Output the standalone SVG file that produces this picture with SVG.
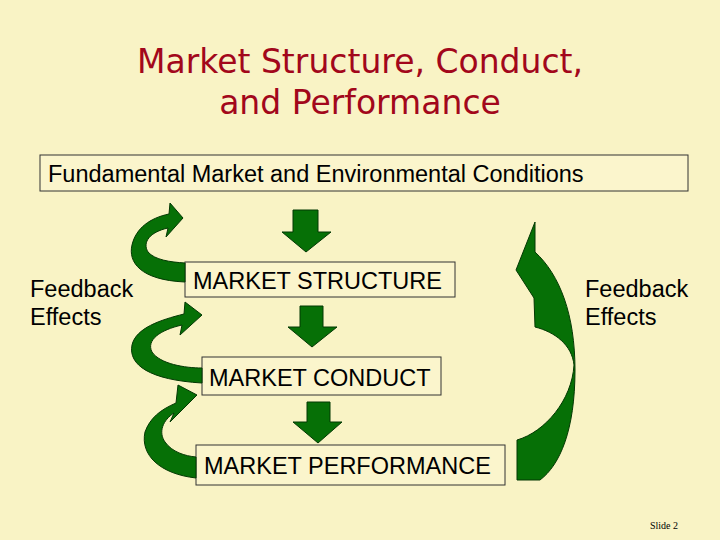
<svg xmlns="http://www.w3.org/2000/svg" width="720" height="540" viewBox="0 0 720 540">
<style>
.t{font-family:"Liberation Sans",Arial,sans-serif;font-size:23.5px;fill:#000}
.b{fill:#fbf5cc;stroke:#333;stroke-width:1}
.a{fill:#067006;stroke:#033803;stroke-width:1}
</style>
<rect width="720" height="540" fill="#f9f3c5"/>
<g id="title" font-family="'DejaVu Sans',sans-serif" font-size="33" fill="#a2071b" text-anchor="middle">
<text x="360" y="73">Market Structure, Conduct,</text>
<text x="360" y="114">and Performance</text>
</g>
<g id="fund"><rect class="b" x="40" y="155" width="648" height="36"/><text class="t" x="48" y="182">Fundamental Market and Environmental Conditions</text></g>
<g id="structure"><rect class="b" x="185" y="262" width="270" height="35"/><text class="t" x="193" y="289">MARKET STRUCTURE</text></g>
<g id="conduct"><rect class="b" x="202" y="357" width="239" height="38"/><text class="t" x="209" y="386">MARKET CONDUCT</text></g>
<g id="performance"><rect class="b" x="196" y="445" width="309" height="40"/><text class="t" x="204" y="474">MARKET PERFORMANCE</text></g>
<g id="fbl"><text class="t" x="30" y="297">Feedback</text><text class="t" x="30" y="325">Effects</text></g>
<g id="fbr"><text class="t" x="585" y="297">Feedback</text><text class="t" x="585" y="325">Effects</text></g>
<g id="connectors">
<path class="a" d="M293,210 H318 V232 H331 L306,252 L282,232 H293 Z"/>
<path class="a" d="M300,306 H323 V327 H337 L312,347 L288,327 H300 Z"/>
<path class="a" d="M307,402 H330 V422 H342 L318,443 L293,422 H307 Z"/>
<path class="a" d="M185,282 C140,280 128,262 132,245 C136,228 150,218 169,214 L170,203 L183,218 L166,237 L168,228 C150,232 142,242 148,252 C155,260 170,262 185,263 Z"/>
<path class="a" d="M202,383 C150,380 128,365 132,345 C136,328 160,320 184,314 L185,302 L202,315 L180,335 L182,325 C160,330 146,340 152,352 C160,364 185,368 202,368 Z"/>
<path class="a" d="M196,478 C160,474 140,455 145,432 C150,418 160,410 176,403 L178,385 L197,395 L170,422 L174,413 C163,420 158,432 165,442 C172,452 185,456 196,457 Z"/>
<path class="a" d="M535,222 L516,270 L534,298 L535,327 C555,332 572,345 574,365 C572,400 545,432 517,440 L517,480 L540,480 C560,465 575,430 575,370 C575,315 560,275 535,252 Z"/>
</g>
<text x="650" y="529" font-family="'Liberation Serif',serif" font-size="10">Slide 2</text>
</svg>
